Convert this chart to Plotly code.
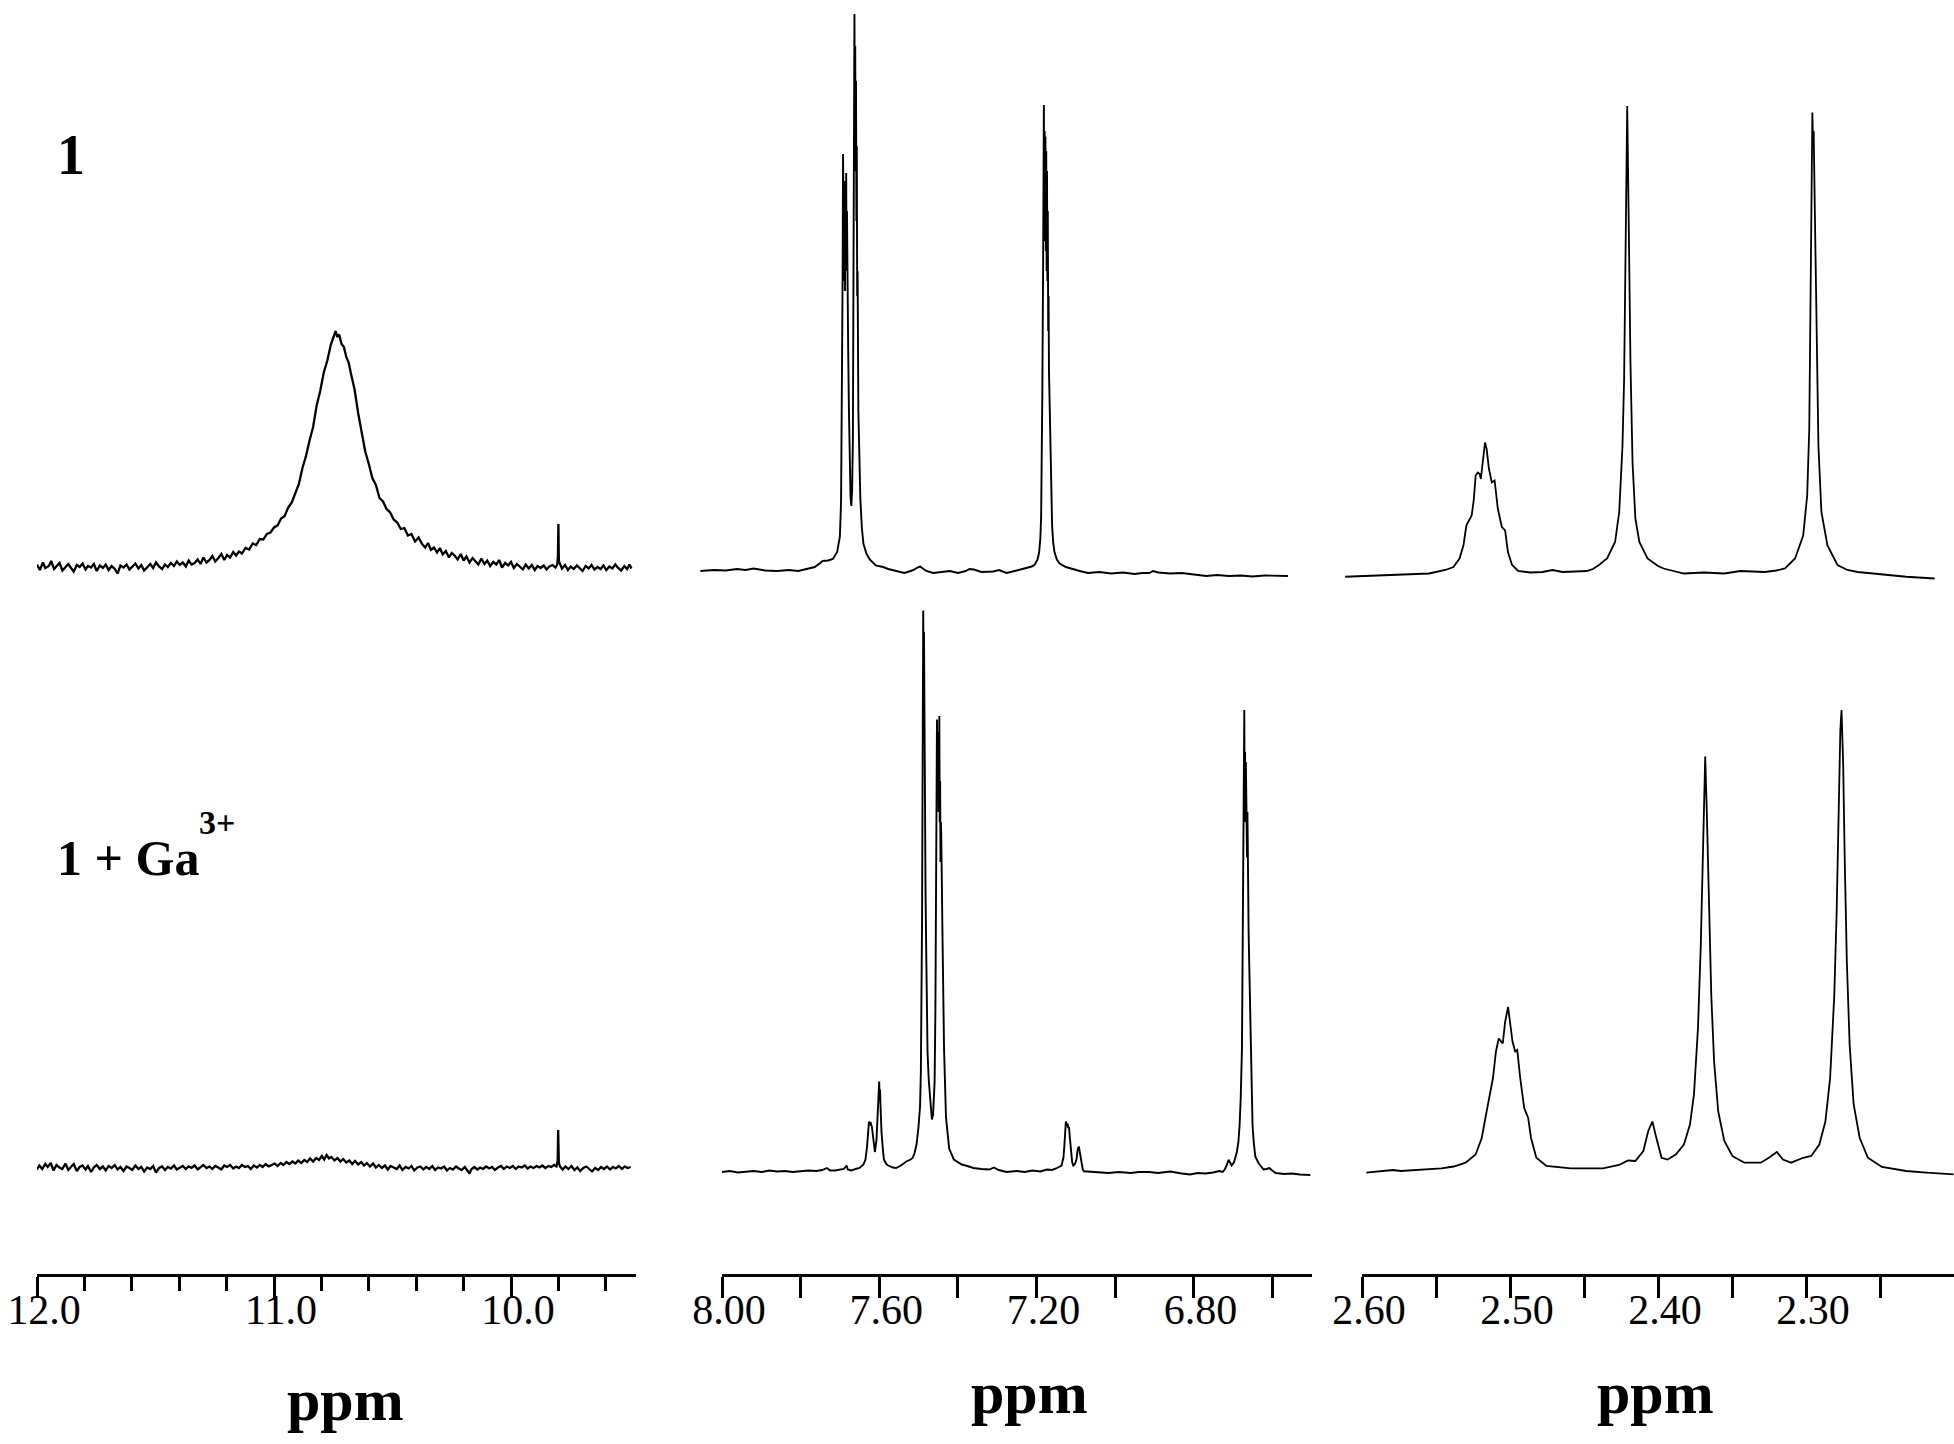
import plotly.graph_objects as go

# ---------------- data (ppm, intensity in arbitrary units) ----------------
# Panel 1 (12.0 - 9.5 ppm), compound 1
p1_top = [
    (12.000, 0.5), (11.988, -0.6), (11.975, 0.9), (11.965, -0.2), (11.950, 0.2), (11.940, 1.2),
    (11.928, -0.4), (11.915, 0.3), (11.905, 0.8), (11.893, -0.7), (11.880, 0.1), (11.868, 0.6),
    (11.855, -0.3), (11.845, -0.9), (11.832, 0.4), (11.820, 0.0), (11.808, 0.7), (11.795, -0.5),
    (11.785, 0.2), (11.772, -0.1), (11.760, 0.6), (11.748, -0.8), (11.735, 0.3), (11.722, -0.2),
    (11.710, 0.5), (11.698, -0.6), (11.685, 0.2), (11.672, -0.4), (11.660, -1.3), (11.648, 0.3),
    (11.635, -0.1), (11.622, 0.5), (11.610, -0.5), (11.598, 0.1), (11.585, 0.7), (11.572, -0.3),
    (11.560, 0.4), (11.548, -0.7), (11.535, 0.0), (11.522, 0.6), (11.510, -0.2), (11.498, 0.9),
    (11.485, 0.1), (11.472, -0.4), (11.460, 0.5), (11.448, 0.0), (11.435, 0.8), (11.422, 0.2),
    (11.410, 1.1), (11.398, 0.4), (11.385, 0.9), (11.372, 0.1), (11.360, 1.3), (11.348, 0.5),
    (11.335, 0.8), (11.322, 1.5), (11.310, 0.6), (11.298, 1.9), (11.285, 0.9), (11.272, 1.4),
    (11.260, 2.2), (11.248, 1.1), (11.235, 1.8), (11.222, 2.6), (11.210, 1.4), (11.198, 2.4),
    (11.185, 1.9), (11.172, 3.0), (11.160, 2.3), (11.148, 3.1), (11.135, 2.7), (11.120, 3.8),
    (11.105, 3.5), (11.090, 4.7), (11.075, 4.4), (11.060, 5.6), (11.045, 5.5), (11.030, 6.6),
    (11.015, 6.9), (11.000, 7.9), (10.985, 8.3), (10.970, 9.7), (10.955, 10.2), (10.940, 11.9),
    (10.925, 12.9), (10.910, 14.9), (10.895, 16.6), (10.880, 19.8), (10.865, 22.2), (10.850, 25.3),
    (10.835, 28.0), (10.820, 32.3), (10.805, 35.2), (10.790, 38.9), (10.775, 41.3), (10.760, 44.5),
    (10.750, 45.8), (10.740, 47.2), (10.733, 46.0), (10.725, 46.5), (10.715, 44.6), (10.705, 44.0),
    (10.695, 42.0), (10.685, 40.9), (10.675, 38.6), (10.660, 35.5), (10.645, 30.8), (10.630, 27.3),
    (10.615, 23.1), (10.600, 20.6), (10.585, 17.8), (10.570, 16.4), (10.555, 13.8), (10.540, 13.1),
    (10.525, 11.6), (10.510, 10.9), (10.495, 9.5), (10.480, 8.9), (10.465, 7.6), (10.450, 7.8),
    (10.435, 6.3), (10.420, 6.6), (10.405, 5.1), (10.390, 5.9), (10.375, 4.6), (10.362, 3.9),
    (10.350, 4.8), (10.338, 3.4), (10.325, 3.9), (10.312, 2.9), (10.300, 3.8), (10.288, 2.5),
    (10.275, 3.2), (10.262, 1.9), (10.250, 2.8), (10.238, 2.3), (10.225, 1.5), (10.212, 2.6),
    (10.200, 1.3), (10.188, 2.1), (10.175, 0.9), (10.162, 1.8), (10.150, 1.2), (10.138, 0.5),
    (10.125, 1.7), (10.112, 0.6), (10.100, 1.3), (10.088, 0.2), (10.075, 1.0), (10.062, 0.5),
    (10.050, 1.4), (10.038, -0.1), (10.025, 0.8), (10.012, 0.3), (10.000, 1.0), (9.988, -0.2),
    (9.975, 0.6), (9.962, 0.1), (9.950, -0.5), (9.938, 0.5), (9.925, -0.3), (9.912, 0.4),
    (9.900, -0.6), (9.888, 0.2), (9.875, -0.2), (9.862, 0.3), (9.850, -0.5), (9.838, 0.1),
    (9.825, 0.4), (9.812, -0.1), (9.805, 0.5), (9.802, 2.0), (9.800, 8.6), (9.798, 1.2),
    (9.794, 0.6), (9.785, -0.3), (9.772, 0.4), (9.760, -0.6), (9.748, 0.1), (9.735, -0.4),
    (9.722, 0.3), (9.710, -0.2), (9.698, -0.8), (9.685, 0.2), (9.672, -0.3), (9.660, 0.4),
    (9.648, -0.5), (9.635, 0.0), (9.622, -0.4), (9.610, 0.3), (9.598, -0.6), (9.585, 0.1),
    (9.572, -0.3), (9.560, 0.5), (9.548, -0.2), (9.535, -0.7), (9.522, 0.2), (9.510, -0.4),
    (9.500, 0.5), (9.492, -0.3),
]
# Panel 1, compound 1 + Ga3+
p1_bot = [
    (12.000, -0.3), (11.990, 0.5), (11.978, -0.2), (11.965, 0.8), (11.955, 0.2), (11.942, 1.0),
    (11.930, -0.5), (11.918, 0.6), (11.905, 0.1), (11.893, -0.2), (11.880, 0.9), (11.868, -0.4),
    (11.855, 0.3), (11.845, 0.8), (11.832, -0.6), (11.820, 0.2), (11.808, 0.5), (11.795, -0.3),
    (11.785, 0.4), (11.772, -0.8), (11.760, 0.1), (11.748, 0.6), (11.735, -0.2), (11.722, 0.3),
    (11.710, -0.5), (11.698, 0.4), (11.685, 0.0), (11.672, 0.6), (11.660, -0.3), (11.648, 0.2),
    (11.635, -0.6), (11.622, 0.3), (11.610, 0.0), (11.598, -0.4), (11.585, 0.5), (11.572, -0.2),
    (11.560, 0.2), (11.548, -0.7), (11.535, 0.1), (11.522, -0.2), (11.510, 0.4), (11.498, -0.9),
    (11.485, 0.0), (11.472, 0.3), (11.460, -0.4), (11.448, 0.2), (11.435, -0.1), (11.422, 0.5),
    (11.410, -0.3), (11.398, 0.1), (11.385, 0.4), (11.372, -0.2), (11.360, 0.3), (11.348, 0.0),
    (11.335, 0.5), (11.322, -0.3), (11.310, 0.2), (11.298, 0.6), (11.285, 0.0), (11.272, 0.3),
    (11.260, -0.2), (11.248, 0.4), (11.235, 0.1), (11.222, -0.3), (11.210, 0.5), (11.198, 0.2),
    (11.185, 0.6), (11.172, -0.1), (11.160, 0.3), (11.148, 0.0), (11.135, 0.6), (11.122, 0.2),
    (11.110, 0.4), (11.098, -0.2), (11.085, 0.5), (11.072, 0.1), (11.060, 0.6), (11.048, 0.2),
    (11.035, 0.8), (11.022, 0.3), (11.010, 0.6), (10.998, 0.9), (10.985, 0.4), (10.972, 1.0),
    (10.960, 0.6), (10.948, 1.2), (10.935, 0.8), (10.922, 1.3), (10.910, 0.9), (10.898, 1.5),
    (10.885, 1.0), (10.872, 1.6), (10.860, 1.2), (10.848, 1.9), (10.835, 1.3), (10.822, 2.0),
    (10.810, 1.6), (10.798, 2.4), (10.788, 1.7), (10.778, 2.6), (10.768, 1.9), (10.758, 2.2),
    (10.745, 1.5), (10.732, 2.0), (10.720, 1.3), (10.708, 1.8), (10.695, 1.1), (10.682, 1.5),
    (10.670, 0.8), (10.658, 1.4), (10.645, 0.7), (10.632, 1.2), (10.620, 0.5), (10.608, 1.0),
    (10.595, 0.3), (10.582, 0.9), (10.570, 0.1), (10.558, 0.6), (10.545, 0.0), (10.532, 0.5),
    (10.520, -0.3), (10.508, 0.4), (10.495, 0.1), (10.482, -0.2), (10.470, 0.5), (10.458, -0.4),
    (10.445, 0.2), (10.432, -0.1), (10.420, 0.4), (10.408, -0.5), (10.395, 0.1), (10.382, 0.3),
    (10.370, -0.3), (10.358, 0.2), (10.345, -0.2), (10.332, 0.4), (10.320, -0.4), (10.308, 0.1),
    (10.295, -0.1), (10.282, 0.3), (10.270, -0.5), (10.258, 0.0), (10.245, -0.3), (10.232, 0.3),
    (10.220, -0.1), (10.208, -0.4), (10.195, 0.2), (10.182, -0.5), (10.175, -1.1), (10.168, -0.3),
    (10.155, 0.2), (10.142, -0.3), (10.130, 0.1), (10.118, -0.2), (10.105, 0.3), (10.092, -0.1),
    (10.080, 0.2), (10.068, -0.4), (10.055, 0.1), (10.042, 0.4), (10.030, -0.2), (10.018, 0.3),
    (10.005, 0.0), (9.992, 0.4), (9.980, -0.2), (9.968, 0.3), (9.955, 0.1), (9.942, 0.5),
    (9.930, -0.1), (9.918, 0.3), (9.905, 0.0), (9.892, 0.4), (9.880, 0.1), (9.868, 0.5),
    (9.855, 0.0), (9.842, 0.4), (9.830, 0.2), (9.818, 0.6), (9.808, 0.3), (9.803, 1.5),
    (9.801, 7.6), (9.798, 1.0), (9.793, 0.3), (9.782, -0.3), (9.770, 0.3), (9.758, -0.2),
    (9.745, 0.4), (9.732, -0.4), (9.720, 0.1), (9.708, -0.6), (9.695, 0.0), (9.682, 0.3),
    (9.670, -0.2), (9.658, -0.7), (9.645, 0.0), (9.632, -0.4), (9.620, 0.2), (9.608, -0.2),
    (9.595, 0.3), (9.582, -0.3), (9.570, 0.2), (9.558, -0.1), (9.545, 0.4), (9.532, -0.2),
    (9.520, 0.3), (9.508, 0.0), (9.495, 0.2),
]
# Panel 2 (8.00 - 6.50 ppm), compound 1
p2_top = [
    (8.055, 0.0), (8.020, 0.2), (7.990, 0.1), (7.962, 0.4), (7.940, 0.2), (7.920, 0.5),
    (7.890, 0.1), (7.860, 0.0), (7.830, 0.2), (7.806, 0.0), (7.785, 0.4), (7.764, 0.8),
    (7.750, 1.6), (7.744, 2.0), (7.730, 2.1), (7.718, 2.4), (7.707, 3.8), (7.700, 6.9),
    (7.697, 14.0), (7.695, 30.0), (7.693, 60.0), (7.692, 83.4), (7.691, 62.0), (7.690, 80.0),
    (7.689, 58.0), (7.688, 78.0), (7.687, 56.0), (7.686, 76.0), (7.685, 60.0), (7.684, 79.6),
    (7.683, 62.0), (7.682, 72.0), (7.681, 55.0), (7.680, 66.0), (7.679, 45.0), (7.677, 32.0),
    (7.675, 22.0), (7.673, 15.0), (7.671, 13.0), (7.669, 16.0), (7.667, 26.0), (7.666, 45.0),
    (7.665, 70.0), (7.664, 95.0), (7.663, 111.4), (7.662, 90.0), (7.661, 105.0), (7.660, 80.0),
    (7.659, 98.0), (7.658, 70.0), (7.657, 85.0), (7.656, 55.0), (7.655, 60.0), (7.653, 32.0),
    (7.650, 20.0), (7.648, 14.5), (7.644, 8.5), (7.640, 5.4), (7.632, 3.4), (7.624, 2.3),
    (7.609, 1.1), (7.590, 0.8), (7.577, 0.4), (7.556, 0.0), (7.536, -0.4), (7.520, 0.0),
    (7.510, 0.3), (7.503, 0.7), (7.496, 0.9), (7.489, 0.5), (7.480, 0.0), (7.463, -0.4),
    (7.440, -0.2), (7.420, 0.0), (7.400, -0.4), (7.380, 0.0), (7.370, 0.4), (7.359, 0.3),
    (7.340, -0.2), (7.310, -0.1), (7.295, 0.2), (7.276, -0.4), (7.250, 0.1), (7.235, 0.4),
    (7.224, 0.6), (7.212, 0.9), (7.204, 1.3), (7.197, 2.3), (7.193, 3.8), (7.190, 6.5),
    (7.188, 10.7), (7.186, 22.0), (7.185, 35.0), (7.183, 60.0), (7.182, 75.0), (7.181, 93.2),
    (7.180, 70.0), (7.179, 88.0), (7.178, 66.0), (7.177, 86.9), (7.176, 64.0), (7.175, 84.0),
    (7.174, 60.0), (7.173, 80.0), (7.172, 58.0), (7.171, 72.0), (7.170, 48.0), (7.169, 55.0),
    (7.168, 40.0), (7.166, 30.0), (7.164, 20.0), (7.162, 13.0), (7.160, 9.0), (7.157, 5.5),
    (7.154, 3.8), (7.148, 2.3), (7.141, 1.5), (7.125, 0.8), (7.110, 0.4), (7.090, 0.0),
    (7.069, -0.4), (7.040, -0.2), (7.010, -0.5), (6.980, -0.3), (6.950, -0.6), (6.930, -0.4),
    (6.913, -0.4), (6.903, 0.0), (6.890, -0.3), (6.860, -0.5), (6.830, -0.4), (6.809, -0.6),
    (6.790, -0.9), (6.768, -1.0), (6.740, -0.8), (6.710, -1.0), (6.680, -0.9), (6.650, -1.1),
    (6.620, -0.9), (6.590, -1.0), (6.560, -1.0),
]
# Panel 2, compound 1 + Ga3+
p2_bot = [
    (8.000, 0.0), (7.980, 0.2), (7.960, -0.1), (7.940, 0.1), (7.920, 0.2), (7.899, 0.0),
    (7.880, 0.3), (7.860, 0.1), (7.840, 0.2), (7.820, 0.0), (7.800, 0.1), (7.780, 0.3),
    (7.760, 0.2), (7.745, 0.4), (7.733, 0.8), (7.725, 0.3), (7.712, 0.3), (7.700, 0.4),
    (7.690, 0.6), (7.685, 1.1), (7.683, 1.3), (7.680, 0.5), (7.671, 0.3), (7.660, 0.6),
    (7.650, 0.8), (7.640, 1.5), (7.635, 2.5), (7.631, 5.0), (7.629, 7.8), (7.627, 9.5),
    (7.626, 10.1), (7.624, 9.4), (7.622, 10.0), (7.620, 9.2), (7.619, 9.3), (7.617, 8.0),
    (7.615, 6.3), (7.611, 4.0), (7.607, 6.3), (7.605, 9.0), (7.603, 12.4), (7.601, 16.0),
    (7.600, 18.1), (7.599, 15.0), (7.598, 16.5), (7.597, 13.9), (7.595, 10.0), (7.594, 7.8),
    (7.590, 4.0), (7.588, 2.5), (7.582, 1.6), (7.577, 1.3), (7.565, 0.9), (7.557, 0.8),
    (7.545, 1.3), (7.531, 2.1), (7.520, 2.5), (7.515, 2.8), (7.510, 3.8), (7.505, 5.5),
    (7.500, 9.0), (7.496, 13.2), (7.494, 20.0), (7.492, 32.3), (7.491, 50.0), (7.490, 70.6),
    (7.489, 95.0), (7.488, 112.3), (7.487, 98.0), (7.486, 108.0), (7.485, 85.9), (7.484, 96.0),
    (7.483, 70.0), (7.482, 55.3), (7.480, 42.0), (7.479, 32.3), (7.477, 24.0), (7.474, 18.5),
    (7.470, 13.5), (7.466, 10.5), (7.463, 11.5), (7.461, 13.9), (7.459, 18.0), (7.457, 32.3),
    (7.456, 50.0), (7.455, 66.0), (7.454, 82.0), (7.453, 90.5), (7.452, 75.0), (7.451, 88.0),
    (7.450, 85.9), (7.449, 72.0), (7.448, 90.0), (7.447, 91.2), (7.446, 70.0), (7.445, 78.2),
    (7.444, 62.0), (7.443, 70.0), (7.442, 66.7), (7.439, 47.6), (7.435, 24.6), (7.430, 10.9),
    (7.426, 7.0), (7.422, 4.7), (7.410, 2.5), (7.401, 2.1), (7.390, 1.5), (7.380, 1.3),
    (7.360, 0.8), (7.340, 0.6), (7.320, 0.5), (7.308, 0.9), (7.296, 0.4), (7.276, 0.0),
    (7.250, 0.2), (7.230, 0.0), (7.210, 0.3), (7.190, 0.1), (7.173, 0.5), (7.160, 0.4),
    (7.150, 0.7), (7.136, 1.3), (7.131, 3.0), (7.129, 5.1), (7.127, 8.0), (7.125, 10.1),
    (7.123, 9.2), (7.121, 9.7), (7.119, 8.8), (7.117, 9.0), (7.115, 7.0), (7.112, 4.7),
    (7.109, 2.0), (7.106, 1.3), (7.102, 1.6), (7.098, 2.5), (7.095, 4.5), (7.092, 5.1),
    (7.089, 3.5), (7.086, 1.7), (7.082, 0.5), (7.079, 0.15), (7.060, 0.0), (7.040, -0.1),
    (7.017, -0.2), (6.990, 0.0), (6.960, -0.2), (6.940, 0.0), (6.913, 0.0), (6.890, -0.2),
    (6.860, 0.1), (6.830, -0.3), (6.809, -0.5), (6.790, -0.2), (6.770, -0.3), (6.750, -0.1),
    (6.735, 0.2), (6.726, 0.0), (6.720, 0.6), (6.716, 1.3), (6.713, 2.0), (6.711, 2.45),
    (6.708, 2.0), (6.703, 1.3), (6.697, 2.0), (6.690, 4.0), (6.686, 6.0), (6.683, 9.3),
    (6.680, 15.0), (6.678, 22.0), (6.677, 24.6), (6.676, 35.0), (6.675, 50.0), (6.674, 55.3),
    (6.673, 70.0), (6.672, 82.0), (6.671, 92.4), (6.670, 70.0), (6.669, 84.0), (6.668, 72.0),
    (6.667, 82.0), (6.666, 68.0), (6.665, 79.0), (6.664, 62.9), (6.663, 72.0), (6.662, 56.8),
    (6.661, 56.8), (6.660, 48.0), (6.658, 40.0), (6.656, 30.0), (6.654, 20.8), (6.652, 14.0),
    (6.650, 9.3), (6.647, 6.0), (6.643, 3.1), (6.635, 1.8), (6.622, 0.5), (6.615, 0.6),
    (6.607, 0.8), (6.600, 0.3), (6.591, -0.2), (6.570, -0.4), (6.550, -0.3), (6.530, -0.5),
    (6.503, -0.6),
]
# Panel 3 (2.60 - 2.20 ppm), compound 1
p3_top = [
    (2.6114, -0.35), (2.600, -0.2), (2.585, 0.0), (2.570, 0.1), (2.5546, 0.3), (2.5437, 1.0),
    (2.5382, 1.6), (2.5341, 3.3), (2.5314, 6.0), (2.5295, 9.9), (2.5275, 11.0), (2.5259, 11.9),
    (2.5245, 15.0), (2.5232, 19.9), (2.5218, 20.5), (2.5205, 20.2), (2.5197, 19.2), (2.5183, 22.5),
    (2.5169, 26.5), (2.5158, 25.2), (2.5142, 21.2), (2.5123, 18.5), (2.5104, 18.9), (2.5082, 13.2),
    (2.5055, 9.6), (2.5033, 8.9), (2.5014, 4.6), (2.4986, 2.0), (2.4945, 0.8), (2.4863, 0.5),
    (2.4780, 0.6), (2.4713, 1.0), (2.4645, 0.6), (2.4560, 0.7), (2.4481, 0.8), (2.4440, 1.2),
    (2.4399, 2.0), (2.4344, 3.3), (2.4290, 6.6), (2.4262, 12.6), (2.4240, 25.8), (2.4229, 39.1),
    (2.4219, 65.6), (2.4208, 93.8), (2.4197, 68.9), (2.4186, 42.4), (2.4172, 22.5), (2.4153, 11.3),
    (2.4126, 6.6), (2.4071, 3.3), (2.4000, 1.8), (2.3962, 1.3), (2.3825, 0.3), (2.3689, 0.5),
    (2.3552, 0.3), (2.3443, 0.8), (2.3279, 0.6), (2.3200, 0.9), (2.3142, 1.3), (2.3074, 3.3),
    (2.3019, 7.9), (2.2992, 15.9), (2.2978, 29.2), (2.2967, 59.0), (2.2957, 92.5), (2.2952, 86.0),
    (2.2948, 88.8), (2.2940, 72.3), (2.2929, 45.7), (2.2916, 25.8), (2.2896, 12.6), (2.2855, 5.9),
    (2.2787, 2.0), (2.2720, 1.0), (2.2651, 0.6), (2.2432, 0.0), (2.2323, -0.35), (2.2131, -0.7),
]
# Panel 3, compound 1 + Ga3+
p3_bot = [
    (2.597, -0.33), (2.5792, 0.2), (2.5738, 0.0), (2.560, 0.3), (2.5464, 0.53), (2.5380, 0.9),
    (2.5300, 1.66), (2.5232, 3.3), (2.5191, 6.6), (2.5158, 11.9), (2.5136, 15.6), (2.5115, 18.6),
    (2.5095, 23.9), (2.5076, 26.5), (2.5060, 25.9), (2.5049, 25.5), (2.5033, 29.8), (2.5013, 32.8),
    (2.5000, 29.8), (2.4983, 25.9), (2.4965, 23.9), (2.4951, 24.2), (2.4931, 18.6), (2.4904, 12.6),
    (2.4877, 10.6), (2.4858, 6.6), (2.4822, 2.65), (2.4754, 1.0), (2.4590, 0.53), (2.4372, 0.53),
    (2.4263, 1.2), (2.4202, 2.1), (2.4153, 2.0), (2.4099, 4.0), (2.4066, 8.0), (2.4038, 9.9),
    (2.4011, 6.6), (2.3976, 2.65), (2.3935, 2.3), (2.3880, 3.3), (2.3825, 5.3), (2.3784, 9.3),
    (2.3757, 15.3), (2.3730, 28.5), (2.3711, 45.1), (2.3695, 68.3), (2.3681, 82.9), (2.3670, 71.6),
    (2.3656, 51.7), (2.3640, 35.1), (2.3621, 21.9), (2.3593, 11.9), (2.3552, 6.0), (2.3497, 3.0),
    (2.3416, 1.66), (2.3306, 1.66), (2.3251, 2.65), (2.3197, 3.8), (2.3156, 2.3), (2.3101, 1.66),
    (2.3019, 2.65), (2.2965, 3.0), (2.2910, 5.3), (2.2869, 9.9), (2.2837, 18.6), (2.2809, 35.1),
    (2.2793, 51.7), (2.2779, 71.6), (2.2768, 88.2), (2.2760, 92.2), (2.2749, 81.6), (2.2738, 61.7),
    (2.2724, 41.8), (2.2705, 25.2), (2.2678, 13.3), (2.2637, 6.6), (2.2582, 2.65), (2.2487, 0.8),
    (2.2323, 0.0), (2.2186, -0.33), (2.2000, -0.66),
]

# axis ranges (ppm) and tick settings
p1_range = [12.0, 9.473]
p2_range = [8.00, 6.50]
p3_range = [2.60, 2.2003]
p1_ticks = dict(tick0=10.0, dtick=1.0, minor_dtick=0.2, fmt=".1f")
p2_ticks = dict(tick0=8.0, dtick=0.4, minor_dtick=0.2, fmt=".2f")
p3_ticks = dict(tick0=2.6, dtick=0.1, minor_dtick=0.05, fmt=".2f")
row_labels = ["1", "1 + Ga", "3+"]
axis_title = "ppm"

# ---------------- layout geometry (pixels) ----------------
W, H = 1954, 1444
PPU = 5.0  # pixels per intensity unit
AXIS_Y = 1274
# per panel: pixel of reference ppm, reference ppm, px per ppm
geo = [
    dict(px0=37, v0=12.0, s=237.0),
    dict(px0=722, v0=8.00, s=393.0),
    dict(px0=1362, v0=2.60, s=1480.0),
]
# top traces are plotted slightly offset (as in the original composite figure)
top_ranges = [[12.0, 9.47], [8.06, 6.555], [2.612, 2.212]]
top_base = [567, 571, 575]
bot_base = [1168, 1172, 1171]
line_w = [2.3, 1.9, 1.8]

SERIF = "Liberation Serif, Times New Roman, serif"


def xdom(g, a, b):
    return [(g["px0"] + (g["v0"] - a) * g["s"]) / W, (g["px0"] + (g["v0"] - b) * g["s"]) / W]


def ydom(top_px, bot_px):
    return [1 - bot_px / H, 1 - top_px / H]


def yrng(top_px, bot_px, base_px):
    return [-(bot_px - base_px) / PPU, (base_px - top_px) / PPU]


fig = go.Figure()
bottoms = [p1_bot, p2_bot, p3_bot]
tops = [p1_top, p2_top, p3_top]
ranges = [p1_range, p2_range, p3_range]
ticks = [p1_ticks, p2_ticks, p3_ticks]

layout = dict(
    width=W, height=H, margin=dict(l=0, r=0, t=0, b=0, autoexpand=False),
    paper_bgcolor="white", plot_bgcolor="rgba(0,0,0,0)", showlegend=False,
)

for i in range(3):
    # bottom (1 + Ga3+) with visible axis
    xa = "x" if i == 0 else f"x{i+1}"
    ya = "y" if i == 0 else f"y{i+1}"
    xs, ys = zip(*bottoms[i])
    fig.add_trace(go.Scatter(x=list(xs), y=list(ys), mode="lines", xaxis=xa, yaxis=ya,
                             line=dict(color="black", width=line_w[i]), hoverinfo="skip"))
    t = ticks[i]
    layout["xaxis" if i == 0 else f"xaxis{i+1}"] = dict(
        domain=xdom(geo[i], *ranges[i]), range=ranges[i], anchor=ya, automargin=False,
        showline=True, linecolor="black", linewidth=3,
        ticks="outside", ticklen=21, tickwidth=3, tickcolor="black",
        tick0=t["tick0"], dtick=t["dtick"], tickformat=t["fmt"],
        minor=dict(dtick=t["minor_dtick"], ticks="outside",
                   ticklen=14 if i == 0 else 21, tickwidth=3, tickcolor="black", showgrid=False),
        showgrid=False, zeroline=False, ticklabelstandoff=-24, ticklabelshift=-7,
        ticklabeloverflow="allow",
        tickfont=dict(family=SERIF, size=42, color="black"),
    )
    layout["yaxis" if i == 0 else f"yaxis{i+1}"] = dict(
        domain=ydom(600, AXIS_Y), range=yrng(600, AXIS_Y, bot_base[i]),
        visible=False, anchor=xa, automargin=False,
    )

    # top (compound 1), hidden axes
    j = i + 4
    xt, yt = zip(*tops[i])
    fig.add_trace(go.Scatter(x=list(xt), y=list(yt), mode="lines", xaxis=f"x{j}", yaxis=f"y{j}",
                             line=dict(color="black", width=line_w[i]), hoverinfo="skip"))
    layout[f"xaxis{j}"] = dict(domain=xdom(geo[i], *top_ranges[i]), range=top_ranges[i],
                               visible=False, anchor=f"y{j}", automargin=False)
    layout[f"yaxis{j}"] = dict(domain=ydom(0, 640), range=yrng(0, 640, top_base[i]),
                               visible=False, anchor=f"x{j}", automargin=False)

bold = dict(family=SERIF, color="black")
ann = [
    dict(text="<b>%s</b>" % row_labels[0], x=55 / W, y=1 - 155 / H, xanchor="left", yanchor="middle",
         font=dict(size=56, **bold)),
    dict(text="<b>%s</b>" % row_labels[1], x=55 / W, y=1 - 858 / H, xanchor="left", yanchor="middle",
         font=dict(size=50, **bold)),
    dict(text="<b>%s</b>" % row_labels[2], x=197 / W, y=1 - 822 / H, xanchor="left", yanchor="middle",
         font=dict(size=34, **bold)),
    dict(text="<b>%s</b>" % axis_title, x=345 / W, y=1 - 1400 / H, xanchor="center", yanchor="middle",
         font=dict(size=60, **bold)),
    dict(text="<b>%s</b>" % axis_title, x=1029 / W, y=1 - 1393 / H, xanchor="center", yanchor="middle",
         font=dict(size=60, **bold)),
    dict(text="<b>%s</b>" % axis_title, x=1655 / W, y=1 - 1393 / H, xanchor="center", yanchor="middle",
         font=dict(size=60, **bold)),
]
for a in ann:
    a.update(xref="paper", yref="paper", showarrow=False)
layout["annotations"] = ann

fig.update_layout(**layout)
fig.write_html("out.html")
